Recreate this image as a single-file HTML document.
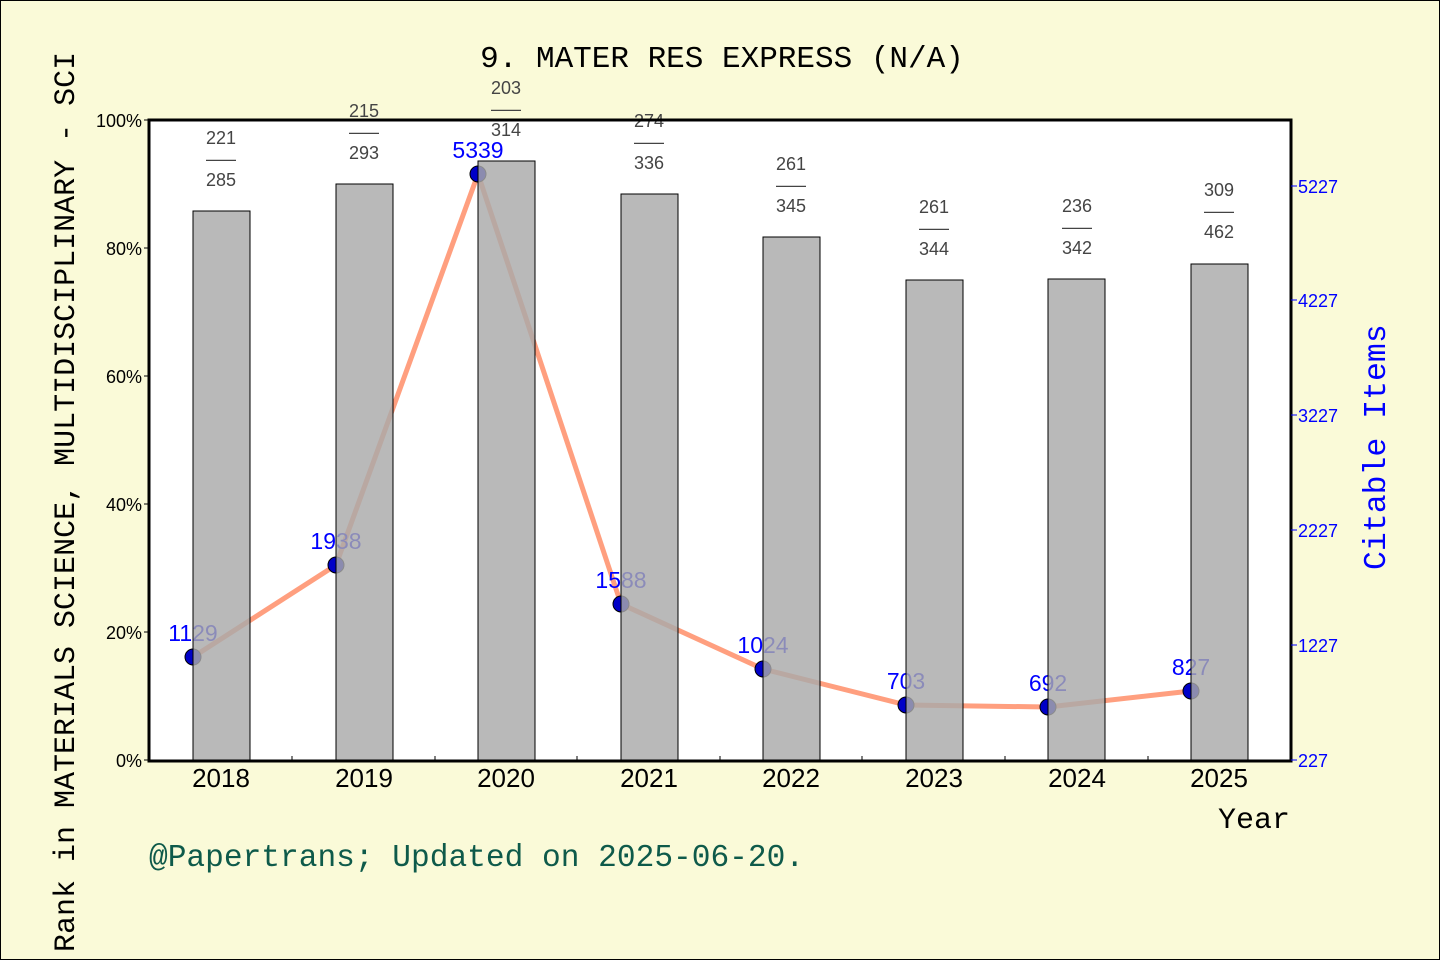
<!DOCTYPE html>
<html><head><meta charset="utf-8"><style>
html,body{margin:0;padding:0;background:#fafad8;}
svg{display:block;}
</style></head><body>
<svg width="1440" height="960" xmlns="http://www.w3.org/2000/svg" font-family="'Liberation Sans',sans-serif">
<rect x="0.5" y="0.5" width="1439" height="959" fill="#fafad8" stroke="#000" stroke-width="1"/>
<rect x="149" y="120" width="1142" height="641" fill="#fff"/>
<text x="722" y="67" font-family="'Liberation Mono',monospace" font-size="31" text-anchor="middle" fill="#000">9. MATER RES EXPRESS (N/A)</text>
<polyline points="193,657 336,565 478,174 621,604 763,669 906,705 1048,707 1191,691" fill="none" stroke="#ff9f7f" stroke-width="5" stroke-linejoin="round"/>
<g fill="#0000c8" stroke="#000" stroke-width="1">
<circle cx="193" cy="657" r="8"/><circle cx="336" cy="565" r="8"/><circle cx="478" cy="174" r="8"/><circle cx="621" cy="604" r="8"/><circle cx="763" cy="669" r="8"/><circle cx="906" cy="705" r="8"/><circle cx="1048" cy="707" r="8"/><circle cx="1191" cy="691" r="8"/>
</g>
<g font-size="23" fill="#0000ff" text-anchor="middle">
<text x="193" y="641">1129</text><text x="336" y="549">1938</text><text x="478" y="158">5339</text><text x="621" y="588">1588</text><text x="763" y="653">1024</text><text x="906" y="689">703</text><text x="1048" y="691">692</text><text x="1191" y="675">827</text>
</g>
<g fill="#a9a9a9" fill-opacity="0.82" stroke="#000" stroke-width="1">
<rect x="193" y="211" width="57" height="550"/>
<rect x="336" y="184" width="57" height="577"/>
<rect x="478" y="161" width="57" height="600"/>
<rect x="621" y="194" width="57" height="567"/>
<rect x="763" y="237" width="57" height="524"/>
<rect x="906" y="280" width="57" height="481"/>
<rect x="1048" y="279" width="57" height="482"/>
<rect x="1191" y="264" width="57" height="497"/>
</g>
<g font-size="18" fill="#444" text-anchor="middle">
<text x="221" y="144">221</text><text x="221" y="165">–––</text><text x="221" y="186">285</text>
<text x="364" y="117">215</text><text x="364" y="138">–––</text><text x="364" y="159">293</text>
<text x="506" y="94">203</text><text x="506" y="115">–––</text><text x="506" y="136">314</text>
<text x="649" y="127">274</text><text x="649" y="148">–––</text><text x="649" y="169">336</text>
<text x="791" y="170">261</text><text x="791" y="191">–––</text><text x="791" y="212">345</text>
<text x="934" y="213">261</text><text x="934" y="234">–––</text><text x="934" y="255">344</text>
<text x="1077" y="212">236</text><text x="1077" y="233">–––</text><text x="1077" y="254">342</text>
<text x="1219" y="196">309</text><text x="1219" y="217">–––</text><text x="1219" y="238">462</text>
</g>
<rect x="149" y="120" width="1142" height="641" fill="none" stroke="#000" stroke-width="3"/>
<g stroke="#000" stroke-width="1">
<line x1="144" y1="120" x2="149" y2="120"/><line x1="144" y1="248" x2="149" y2="248"/><line x1="144" y1="376" x2="149" y2="376"/><line x1="144" y1="504" x2="149" y2="504"/><line x1="144" y1="632" x2="149" y2="632"/><line x1="144" y1="760" x2="149" y2="760"/>
<line x1="292" y1="761" x2="292" y2="756"/><line x1="435" y1="761" x2="435" y2="756"/><line x1="577" y1="761" x2="577" y2="756"/><line x1="720" y1="761" x2="720" y2="756"/><line x1="862" y1="761" x2="862" y2="756"/><line x1="1005" y1="761" x2="1005" y2="756"/><line x1="1148" y1="761" x2="1148" y2="756"/>
</g>
<g stroke="#0000ff" stroke-width="1">
<line x1="1291" y1="186" x2="1297" y2="186"/><line x1="1291" y1="300" x2="1297" y2="300"/><line x1="1291" y1="415" x2="1297" y2="415"/><line x1="1291" y1="530" x2="1297" y2="530"/><line x1="1291" y1="645" x2="1297" y2="645"/><line x1="1291" y1="760" x2="1297" y2="760"/>
</g>
<g font-size="18" fill="#000" text-anchor="end">
<text x="142" y="127">100%</text><text x="142" y="255">80%</text><text x="142" y="383">60%</text><text x="142" y="511">40%</text><text x="142" y="639">20%</text><text x="142" y="767">0%</text>
</g>
<g font-size="18" fill="#0000ff">
<text x="1298" y="193">5227</text><text x="1298" y="307">4227</text><text x="1298" y="422">3227</text><text x="1298" y="537">2227</text><text x="1298" y="652">1227</text><text x="1298" y="767">227</text>
</g>
<g font-size="26" fill="#000" text-anchor="middle">
<text x="221" y="787">2018</text><text x="364" y="787">2019</text><text x="506" y="787">2020</text><text x="649" y="787">2021</text><text x="791" y="787">2022</text><text x="934" y="787">2023</text><text x="1077" y="787">2024</text><text x="1219" y="787">2025</text>
</g>
<text x="1290" y="828" font-size="30" text-anchor="end" fill="#000" font-family="'Liberation Mono',monospace">Year</text>
<text x="149" y="866" font-size="31.2" fill="#0e5a4a" font-family="'Liberation Mono',monospace">@Papertrans; Updated on 2025-06-20.</text>
<text transform="translate(74,952) rotate(-90)" font-size="30" fill="#000" font-family="'Liberation Mono',monospace">Rank in MATERIALS SCIENCE, MULTIDISCIPLINARY - SCI</text>
<text transform="translate(1385,570) rotate(-90)" font-size="31.5" fill="#0000ff" font-family="'Liberation Mono',monospace">Citable Items</text>
</svg>
</body></html>
